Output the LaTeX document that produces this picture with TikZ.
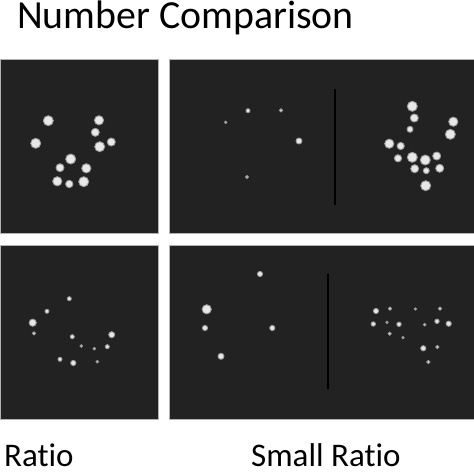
\documentclass[tikz,border=0pt]{standalone}
\usepackage{fontspec}
\setmainfont[Ligatures=NoCommon]{Carlito}
\definecolor{screen}{HTML}{222222}
\definecolor{halo}{HTML}{9A9A9A}
\definecolor{spot}{HTML}{E8E8E8}
\tikzset{
  panel/.style={draw=gray!60, fill=screen, line width=0.8pt, minimum width=#1,
    minimum height=174pt, anchor=north west, inner sep=0pt},
  dot/.style={fill=spot, draw=halo, line width=0.9pt},
  caption/.style={font=\fontsize{33}{33}\selectfont, anchor=base west, inner sep=0pt},
}
\begin{document}
\begin{tikzpicture}[x=1pt,y=-1pt]
  \useasboundingbox (0,0) rectangle (474,474);
  \clip (0,0) rectangle (474,474);

  % title and condition labels
  \node[caption, font=\fontsize{39.8}{39.8}\selectfont] (title) at (17,28.5) {Number Comparison};
  \node[caption] (large) at (4,466) {Ratio};
  \node[caption] (small) at (251,466) {Small Ratio};

  % the four screens
  \node[panel=158pt] (tl) at (0,59) {};
  \node[panel=310pt] (tr) at (169,59) {};
  \node[panel=158pt] (bl) at (0,245) {};
  \node[panel=310pt] (br) at (169,245) {};

  % dividing bars
  \draw[black, line width=2pt] (335,89) -- (335,205);
  \draw[black, line width=2pt] (328,274) -- (328,389);

  % top left
  \foreach \x/\y/\r in {48.3/120.7/5, 35.7/143.3/5, 99/120.3/4.6, 95.3/132.3/4,
      111.3/142/4, 99.7/146.7/5, 70.7/159/5, 60/167.7/4, 86.3/168.3/4.6,
      57.3/181.3/4.6, 69.3/184/3.7, 83.7/181.7/5}
    \filldraw[dot] (\x,\y) circle (\r pt);

  % top right, left half
  \foreach \x/\y/\r in {248/110.7/2, 281/110.3/1.6, 225.7/122.3/1.2,
      299/141/3, 247/177/1.4}
    \filldraw[dot] (\x,\y) circle (\r pt);

  % top right, right half
  \foreach \x/\y/\r in {412.3/106.3/5, 414.3/118/4, 410/129.3/3, 453.3/121.7/4.6,
      450.3/134.3/5, 389.3/143.7/4.6, 400.7/146/3.6, 398/158.3/3.6,
      412.3/157.3/5, 425.3/160/5, 436.7/156/4, 414.7/168.7/4, 426.3/170.7/3,
      439.7/168.3/4, 425.7/185.7/5}
    \filldraw[dot] (\x,\y) circle (\r pt);

  % bottom left
  \foreach \x/\y/\r in {69.3/298.7/2, 47/311.3/2, 32.7/322.7/3.6, 34/333.3/1.6,
      72.3/336.7/2, 81.3/346/1.3, 94.3/348.7/1.3, 111.7/334.7/3,
      107.3/346.7/2, 60/359.3/2, 73.3/363/2.6, 97.3/361.7/1.3}
    \filldraw[dot] (\x,\y) circle (\r pt);

  % bottom right, left half
  \foreach \x/\y/\r in {260/274/2.6, 206.7/309.3/4.6, 205/328/2.6,
      272.3/328/2.6, 221/356.3/3}
    \filldraw[dot] (\x,\y) circle (\r pt);

  % bottom right, right half
  \foreach \x/\y/\r in {376/311/2.6, 390/308.7/1.6, 415.3/309/1.1, 440/308.7/1.6,
      373.3/324/2.2, 387/322.3/1.1, 399/324.3/2.2, 424.7/324.7/1.3,
      437/321.3/2.2, 448.7/323.7/2.6, 389.7/333.7/1.6, 403/337.7/1.1,
      423.3/348.3/2.6, 437.3/347/1.6, 428.3/362/1.6}
    \filldraw[dot] (\x,\y) circle (\r pt);
\end{tikzpicture}
\end{document}
